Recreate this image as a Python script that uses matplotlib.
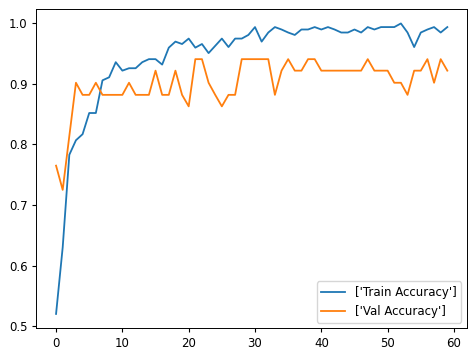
import matplotlib
matplotlib.use("Agg")
import matplotlib.pyplot as plt

# accuracy per epoch
train_acc = [0.52, 0.63, 0.783, 0.807, 0.817, 0.852, 0.852, 0.906, 0.911, 0.936,
             0.922, 0.926, 0.926, 0.936, 0.941, 0.941, 0.932, 0.960, 0.970, 0.966,
             0.975, 0.960, 0.966, 0.951, 0.963, 0.975, 0.961, 0.975, 0.975, 0.981,
             0.994, 0.970, 0.985, 0.994, 0.990, 0.985, 0.981, 0.990, 0.990, 0.994,
             0.990, 0.994, 0.990, 0.985, 0.985, 0.990, 0.985, 0.994, 0.990, 0.994,
             0.994, 0.994, 1.0, 0.985, 0.961, 0.985, 0.990, 0.994, 0.985, 0.994]
val_acc = [0.765, 0.725, 0.814, 0.902, 0.882, 0.882, 0.902, 0.882, 0.882, 0.882,
           0.882, 0.902, 0.882, 0.882, 0.882, 0.922, 0.882, 0.882, 0.922, 0.882,
           0.863, 0.941, 0.941, 0.902, 0.882, 0.863, 0.882, 0.882, 0.941, 0.941,
           0.941, 0.941, 0.941, 0.882, 0.922, 0.941, 0.922, 0.922, 0.941, 0.941,
           0.922, 0.922, 0.922, 0.922, 0.922, 0.922, 0.922, 0.941, 0.922, 0.922,
           0.922, 0.902, 0.902, 0.882, 0.922, 0.922, 0.941, 0.902, 0.941, 0.922]
labels = [['Train Accuracy'], ['Val Accuracy']]

fig = plt.figure(figsize=(4.74, 3.57), dpi=100)
ax = fig.add_axes([0.077, 0.080, 0.908, 0.895])

ax.plot(train_acc, label=str(labels[0]), linewidth=1.3)
ax.plot(val_acc, label=str(labels[1]), linewidth=1.3)

ax.tick_params(labelsize=8.5, length=3)
for s in ax.spines.values():
    s.set_linewidth(0.7)
ax.legend(loc='lower right', fontsize=8.5)

plt.savefig("out.png", dpi=100)
